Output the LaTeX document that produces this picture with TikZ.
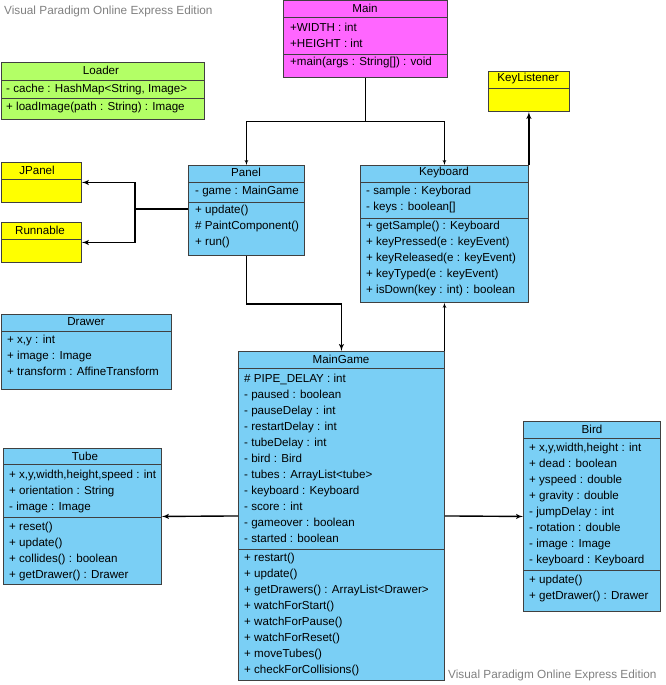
\documentclass[tikz,border=0pt]{standalone}
\usepackage{fontspec}
\setmainfont{Liberation Sans}
\usetikzlibrary{arrows}
\usetikzlibrary{positioning}
\tikzset{>=latex', font=\fontsize{11.6}{16}\selectfont}
\tikzstyle{box} = [draw=black!75, line width=0.9pt, rectangle, anchor=north west, inner sep=0pt]
\tikzstyle{title} = [anchor=center, inner sep=0pt]
\tikzstyle{members} = [anchor=north west, align=left, inner sep=0pt, yshift=-1.5pt]
\tikzstyle{sep} = [draw=black!75, line width=0.9pt]
\tikzstyle{link} = [draw, line width=0.7pt]
\tikzstyle{bold link} = [draw, line width=1.4pt]
\tikzstyle{watermark} = [text=black!50, anchor=base west, inner sep=0pt, font=\fontsize{11.8}{12}\selectfont]
\definecolor{umlpink}{HTML}{FF66FF}
\definecolor{umlgreen}{HTML}{B3FF66}
\definecolor{umlyellow}{HTML}{FFFF00}
\definecolor{umlblue}{HTML}{7ACFF5}

\begin{document}
\begin{tikzpicture}[x=1pt, y=-1pt]
		\useasboundingbox (0,0) rectangle (665,685);
		\node [watermark] (mark top) at (4,15) {Visual Paradigm Online Express Edition};
		\node [watermark] (mark bottom) at (448,678) {Visual Paradigm Online Express Edition};

		% Main
		\node [box, fill=umlpink, minimum width=164pt, minimum height=77pt] (main) at (283,0) {};
		\node [title] (main title) at (365,8) {Main};
		\draw [sep] (283,17) -- (447,17);
		\node [members] (main attrs) at (290,21) {+WIDTH : int\\+HEIGHT : int};
		\draw [sep] (283,54) -- (447,54);
		\node [members] (main ops) at (290,55) {+main(args : String[]) : void};

		% Loader
		\node [box, fill=umlgreen, minimum width=203pt, minimum height=57pt] (loader) at (1,62) {};
		\node [title] (loader title) at (101,70) {Loader};
		\draw [sep] (1,80) -- (204,80);
		\node [members] (loader attrs) at (6,82) {- cache : HashMap<String, Image>};
		\draw [sep] (1,98) -- (204,98);
		\node [members] (loader ops) at (6,100) {+ loadImage(path : String) : Image};

		% KeyListener, JPanel, Runnable
		\node [box, fill=umlyellow, minimum width=81pt, minimum height=40pt] (keylistener) at (488,71) {};
		\node [title] (keylistener title) at (528,79) {KeyListener};
		\draw [sep] (488,88) -- (569,88);
		\node [box, fill=umlyellow, minimum width=80pt, minimum height=40pt] (jpanel) at (1,162) {};
		\node [title] (jpanel title) at (37,170) {JPanel};
		\draw [sep] (1,179) -- (81,179);
		\node [box, fill=umlyellow, minimum width=80pt, minimum height=40pt] (runnable) at (1,222) {};
		\node [title] (runnable title) at (40,230) {Runnable};
		\draw [sep] (1,239) -- (81,239);

		% Panel
		\node [box, fill=umlblue, minimum width=116pt, minimum height=90pt] (panel) at (188,165) {};
		\node [title] (panel title) at (246,172) {Panel};
		\draw [sep] (188,182) -- (304,182);
		\node [members] (panel attrs) at (195,184) {- game : MainGame};
		\draw [sep] (188,202) -- (304,202);
		\node [members] (panel ops) at (195,203) {+ update()\\\# PaintComponent()\\+ run()};

		% Keyboard
		\node [box, fill=umlblue, minimum width=168pt, minimum height=137pt] (keyboard) at (360,165) {};
		\node [title] (keyboard title) at (444,172) {Keyboard};
		\draw [sep] (360,182) -- (528,182);
		\node [members] (keyboard attrs) at (366,184) {- sample : Keyborad\\- keys : boolean[]};
		\draw [sep] (360,218) -- (528,218);
		\node [members] (keyboard ops) at (366,219) {+ getSample() : Keyboard\\+ keyPressed(e : keyEvent)\\+ keyReleased(e : keyEvent)\\+ keyTyped(e : keyEvent)\\+ isDown(key : int) : boolean};

		% Drawer
		\node [box, fill=umlblue, minimum width=170pt, minimum height=75pt] (drawer) at (1,314) {};
		\node [title] (drawer title) at (86,322) {Drawer};
		\draw [sep] (1,331) -- (171,331);
		\node [members] (drawer attrs) at (7,333) {+ x,y : int\\+ image : Image\\+ transform : AffineTransform};

		% MainGame
		\node [box, fill=umlblue, minimum width=206pt, minimum height=329pt] (maingame) at (238,351) {};
		\node [title] (maingame title) at (341,359) {MainGame};
		\draw [sep] (238,368) -- (444,368);
		\node [members] (maingame attrs) at (244,372) {\# PIPE\_DELAY : int\\- paused : boolean\\- pauseDelay : int\\- restartDelay : int\\- tubeDelay : int\\- bird : Bird\\- tubes : ArrayList<tube>\\- keyboard : Keyboard\\- score : int\\- gameover : boolean\\- started : boolean};
		\draw [sep] (238,549) -- (444,549);
		\node [members] (maingame ops) at (244,551) {+ restart()\\+ update()\\+ getDrawers() : ArrayList<Drawer>\\+ watchForStart()\\+ watchForPause()\\+ watchForReset()\\+ moveTubes()\\+ checkForCollisions()};

		% Tube
		\node [box, fill=umlblue, minimum width=158pt, minimum height=136pt] (tube) at (3,448) {};
		\node [title] (tube title) at (85,456) {Tube};
		\draw [sep] (3,464) -- (161,464);
		\node [members] (tube attrs) at (9,468) {+ x,y,width,height,speed : int\\+ orientation : String\\- image : Image};
		\draw [sep] (3,517) -- (161,517);
		\node [members] (tube ops) at (9,520) {+ reset()\\+ update()\\+ collides() : boolean\\+ getDrawer() : Drawer};

		% Bird
		\node [box, fill=umlblue, minimum width=137pt, minimum height=190pt] (bird) at (523,421) {};
		\node [title] (bird title) at (592,429) {Bird};
		\draw [sep] (523,438) -- (660,438);
		\node [members] (bird attrs) at (529,441) {+ x,y,width,height : int\\+ dead : boolean\\+ yspeed : double\\+ gravity : double\\- jumpDelay : int\\- rotation : double\\- image : Image\\- keyboard : Keyboard};
		\draw [sep] (523,570) -- (660,570);
		\node [members] (bird ops) at (529,573) {+ update()\\+ getDrawer() : Drawer};

		% connectors
		\coordinate (split) at ([yshift=-43pt]main.south);
		\coordinate (fork) at (135,209);
		\draw [link] (main.south) -- (split);
		\draw [link, ->] (split) -| (panel.north);
		\draw [link, ->] (split) -| (keyboard.north);
		\draw [bold link, ->] (keyboard.north east) -- (keyboard.north east |- keylistener.south);
		\draw [bold link] (panel.west |- fork) -- (fork);
		\draw [bold link, ->] (fork) |- (jpanel.east);
		\draw [bold link, ->] (fork) |- (runnable.east);
		\draw [bold link, ->] (panel.south) -- ++(0,48) -| (maingame.north);
		\draw [link, ->] (maingame.north -| keyboard.south) -- (keyboard.south);
		\draw [bold link, ->] (maingame.west) -- (tube.east);
		\draw [bold link, ->] (maingame.east) -- (bird.west);
	\end{tikzpicture}
\end{document}
